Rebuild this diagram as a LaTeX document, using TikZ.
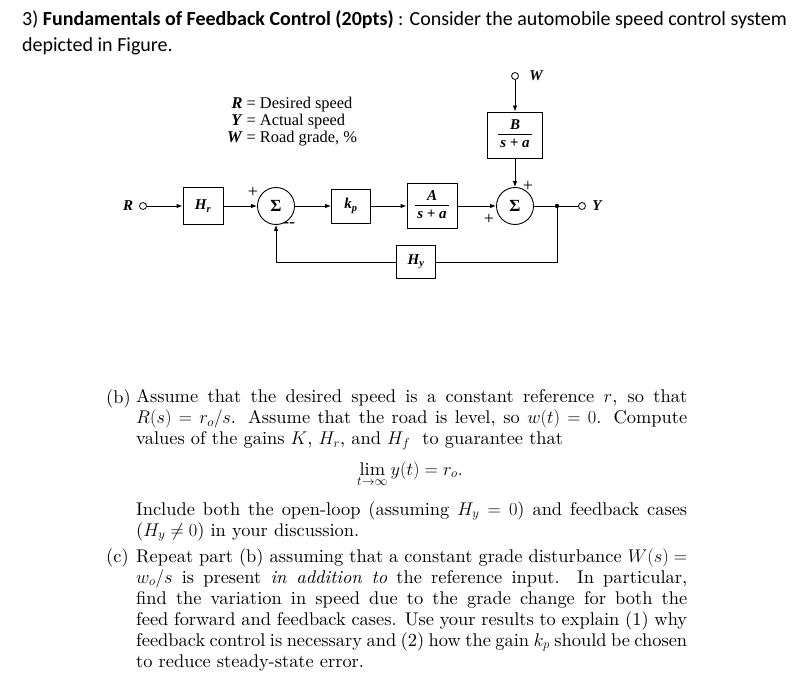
\documentclass[tikz,border=0pt]{standalone}
\usepackage{fix-cm}
\usepackage{amsmath}
\usepackage{fontspec}
\setmainfont{lmroman10-regular.otf}[BoldFont=lmroman10-bold.otf, ItalicFont=lmroman10-italic.otf]
\newfontfamily\headfont{Carlito}
\newfontfamily\figfont{Liberation Serif}
\usetikzlibrary{arrows.meta,positioning}
\hyphenpenalty=10000
\newcommand{\blkfrac}[2]{\begin{tabular}{@{\,}c@{\,}}#1\\[-1pt]\hline\rule{0pt}{13pt}#2\end{tabular}}
\tikzset{%
  % blocks
  blk/.style={draw, line width=0.9pt, inner sep=2pt, font=\figfont\bfseries\itshape\fontsize{15}{17}\selectfont},
  summer/.style={draw, circle, line width=0.9pt, minimum size=37pt, inner sep=0pt, font=\figfont\bfseries\fontsize{17}{17}\selectfont},
  port/.style={draw, circle, line width=0.8pt, minimum size=7pt, inner sep=0pt},
  figlbl/.style={inner sep=0pt, font=\figfont\bfseries\itshape\fontsize{15}{17}\selectfont},
  sign/.style={inner sep=0pt, font=\figfont\fontsize{18}{18}\selectfont},
  % edges
  sig/.style={-{Latex[length=6pt,width=4.5pt]}, line width=0.9pt},
  wire/.style={line width=0.9pt},
  % text
  para/.style={anchor=north west, inner sep=0pt, text width=551pt, align=justify, font=\fontsize{18.4}{21}\selectfont},
  tag/.style={anchor=base west, inner sep=0pt, font=\fontsize{18.4}{21}\selectfont},
}
\begin{document}
\begin{tikzpicture}[x=1pt, y=-1pt]
  \useasboundingbox (0,0) rectangle (794,676);

  \node[anchor=north west, inner sep=0pt, align=left, font=\headfont\fontsize{20}{26}\selectfont] (title) at (22,10)
    {3) \textbf{Fundamentals of Feedback Control (20pts)} : Consider the automobile speed control system\\depicted in Figure.};

  % legend
  \node[inner sep=0pt, font=\figfont\fontsize{16.4}{17}\selectfont] (legend) at (292,122)
    {\begin{tabular}{@{}r@{\ }l@{}}\textbf{\textit{R}} = & Desired speed\\ \textbf{\textit{Y}} = & Actual speed\\ \textbf{\textit{W}} = & Road grade, \%\end{tabular}};

  % block diagram
  \node[port] (rin) at (143,206) {};
  \node[figlbl] (rlbl) at (128,206) {R};
  \node[blk, minimum width=40pt, minimum height=37pt] (hr) at (203,206) {H\textsubscript{r}};
  \node[summer] (s1) at (276,206) {Σ};
  \node[blk, minimum width=39pt, minimum height=34pt] (kp) at (351,206) {k\textsubscript{p}};
  \node[blk, minimum width=50pt, minimum height=45pt] (plant) at (432,206) {\blkfrac{A}{s + a}};
  \node[summer] (s2) at (515,206) {Σ};
  \node[blk, minimum width=55pt, minimum height=46pt] (dist) at (515,135) {\blkfrac{B}{s + a}};
  \node[port] (win) at (515,76) {};
  \node[figlbl] (wlbl) at (536,76) {W};
  \coordinate (tap) at (557,206);
  \node[port] (yout) at (582,206) {};
  \node[figlbl] (ylbl) at (597,206) {Y};
  \node[blk, minimum width=39pt, minimum height=33pt] (hy) at (416,262) {H\textsubscript{y}};

  \node[sign] (p1) at (253,192) {+};
  \node[sign] (m1) at (289,225) {--};
  \node[sign] (p2) at (528,186) {+};
  \node[sign] (p3) at (489,219) {+};

  \draw[sig] (rin) -- (hr);
  \draw[sig] (hr) -- (s1);
  \draw[sig] (s1) -- (kp);
  \draw[sig] (kp) -- (plant);
  \draw[sig] (plant) -- (s2);
  \draw[sig] (win) -- (dist);
  \draw[sig] (dist) -- (s2);
  \draw[wire] (s2) -- (yout);
  \fill (tap) circle (2.2pt);
  \draw[wire] (tap) |- (hy);
  \draw[sig] (hy) -| (s1);

  % part (b)
  \node[tag] (tagb) at (106,403) {(b)};
  \node[para] (partb) at (136,389)
    {Assume that the desired speed is a constant reference $r$, so that\linebreak
     $R(s)=r_o/s$. Assume that the road is level, so $w(t)=0$. Compute\linebreak
     values of the gains $K$, $H_r$, and $H_f$\ \ to guarantee that};
  \node[anchor=base, inner sep=0pt, font=\fontsize{18.4}{21}\selectfont] (lim) at (410,475)
    {$\displaystyle\lim_{t\to\infty} y(t) = r_o.$};
  \node[para] (incl) at (136,501)
    {Include both the open-loop (assuming $H_y = 0$) and feedback cases\linebreak
     ($H_y\neq 0$) in your discussion.};

  % part (c)
  \node[tag] (tagc) at (106,562) {(c)};
  \node[para] (partc) at (136,548)
    {Repeat part (b) assuming that a constant grade disturbance $W(s)=$\linebreak
     $w_o/s$ is present \textit{in addition to} the reference input. In particular,\linebreak
     find the variation in speed due to the grade change for both the\linebreak
     feed forward and feedback cases. Use your results to explain (1) why\linebreak
     feedback control is necessary and (2) how the gain $k_p$ should be chosen\linebreak
     to reduce steady-state error.};
\end{tikzpicture}
\end{document}
